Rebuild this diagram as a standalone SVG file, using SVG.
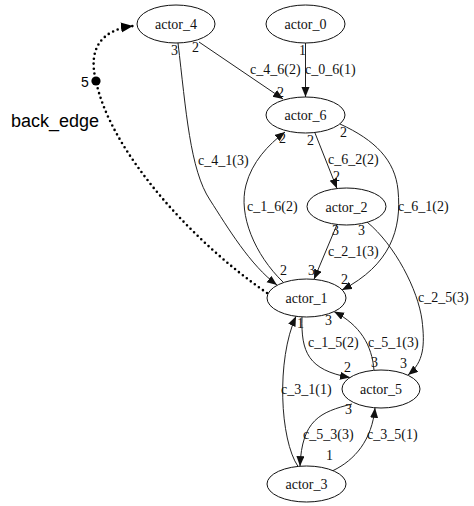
<svg xmlns="http://www.w3.org/2000/svg" width="474" height="506" viewBox="0 0 474 506">
<style>
.n ellipse{fill:#fff;stroke:#111;stroke-width:1}
.n text,.l{font-family:"Liberation Serif","Times New Roman",serif;font-size:14px;fill:#111}
.n text{text-anchor:middle}
.e{fill:none;stroke:#222;stroke-width:1;marker-end:url(#ah)}
.s{font-family:"Liberation Sans",Arial,sans-serif;fill:#000}
</style>
<defs>
<marker id="ah" markerUnits="userSpaceOnUse" markerWidth="12" markerHeight="10" refX="10" refY="4" orient="auto">
<path d="M0,0 L10,4 L0,8 Z" fill="#111"/>
</marker>
<marker id="bh" markerUnits="userSpaceOnUse" markerWidth="14" markerHeight="12" refX="12" refY="5" orient="auto">
<path d="M0,0 L12,5 L0,10 Z" fill="#000"/>
</marker>
</defs>
<g id="connectors">
<path class="e" d="M305.5,43 L305.5,97"/>
<path class="e" d="M199,42 L283,99"/>
<path class="e" d="M178,43 C186,110 190,170 210,200 C228,228 250,265 277,285"/>
<path class="e" d="M283,282 C255,255 238,215 246,185 C252,162 268,145 285,132"/>
<path class="e" d="M315,133 L337,188.5"/>
<path class="e" d="M340,124 C375,140 395,160 398,190 C402,230 390,265 342,290"/>
<path class="e" d="M337,224.5 L314,279.3"/>
<path class="e" d="M367,222 C395,245 418,290 422,320 C425,345 424,362 408,375"/>
<path class="e" d="M302,317 C301,352 308,370 350,377.5"/>
<path class="e" d="M374,370.3 C372,345 360,325 334,311.6"/>
<path class="e" d="M298,466.4 C280,440 276,360 296,316.3"/>
<path class="e" d="M352,404 C320,412 302,420 300,466.2"/>
<path class="e" d="M333,470.6 C355,460 372,440 375,407.8"/>
</g>
<g id="back_edge">
<path d="M267,293 C190,240 110,150 96,81 C88,50 100,30 133,26" fill="none" stroke="#000" stroke-width="2.6" stroke-linecap="round" stroke-dasharray="0 5" marker-end="url(#bh)"/>
<circle cx="96" cy="81" r="4.6" fill="#000"/>
<text class="s" x="81" y="87" font-size="14">5</text>
<text class="s" x="11" y="127" font-size="18">back_edge</text>
</g>
<g id="edge-labels">
<text class="l" x="299" y="55">1</text>
<text class="l" x="305" y="74">c_0_6(1)</text>
<text class="l" x="250" y="74">c_4_6(2)</text>
<text class="l" x="192" y="52">2</text>
<text class="l" x="171" y="55">3</text>
<text class="l" x="277" y="97">2</text>
<text class="l" x="198" y="165">c_4_1(3)</text>
<text class="l" x="279" y="143">2</text>
<text class="l" x="307" y="145">2</text>
<text class="l" x="340" y="137">2</text>
<text class="l" x="328" y="164">c_6_2(2)</text>
<text class="l" x="333" y="181">2</text>
<text class="l" x="247" y="211">c_1_6(2)</text>
<text class="l" x="398" y="211">c_6_1(2)</text>
<text class="l" x="332" y="235">3</text>
<text class="l" x="358" y="235">3</text>
<text class="l" x="328" y="256">c_2_1(3)</text>
<text class="l" x="280" y="275">2</text>
<text class="l" x="308" y="275">3</text>
<text class="l" x="341" y="284">2</text>
<text class="l" x="418" y="302">c_2_5(3)</text>
<text class="l" x="297" y="328">1</text>
<text class="l" x="325" y="325">3</text>
<text class="l" x="308" y="347">c_1_5(2)</text>
<text class="l" x="368" y="347">c_5_1(3)</text>
<text class="l" x="344" y="372">2</text>
<text class="l" x="371" y="367">3</text>
<text class="l" x="400" y="368">3</text>
<text class="l" x="281" y="394">c_3_1(1)</text>
<text class="l" x="345" y="414">3</text>
<text class="l" x="303" y="439">c_5_3(3)</text>
<text class="l" x="367" y="439">c_3_5(1)</text>
<text class="l" x="326" y="460">1</text>
</g>
<g id="actor_4" class="n"><ellipse cx="176" cy="24" rx="39" ry="19"/><text x="176" y="29">actor_4</text></g>
<g id="actor_0" class="n"><ellipse cx="305.5" cy="24" rx="39.5" ry="19"/><text x="305.5" y="29">actor_0</text></g>
<g id="actor_6" class="n"><ellipse cx="305.5" cy="115" rx="39.5" ry="18"/><text x="305.5" y="120">actor_6</text></g>
<g id="actor_2" class="n"><ellipse cx="346.5" cy="206.5" rx="39.5" ry="18.5"/><text x="346.5" y="211.5">actor_2</text></g>
<g id="actor_1" class="n"><ellipse cx="306.5" cy="298" rx="39.5" ry="19"/><text x="306.5" y="303">actor_1</text></g>
<g id="actor_5" class="n"><ellipse cx="381" cy="389" rx="39" ry="19"/><text x="381" y="394">actor_5</text></g>
<g id="actor_3" class="n"><ellipse cx="306.5" cy="484" rx="39.5" ry="18"/><text x="306.5" y="489">actor_3</text></g>
</svg>
